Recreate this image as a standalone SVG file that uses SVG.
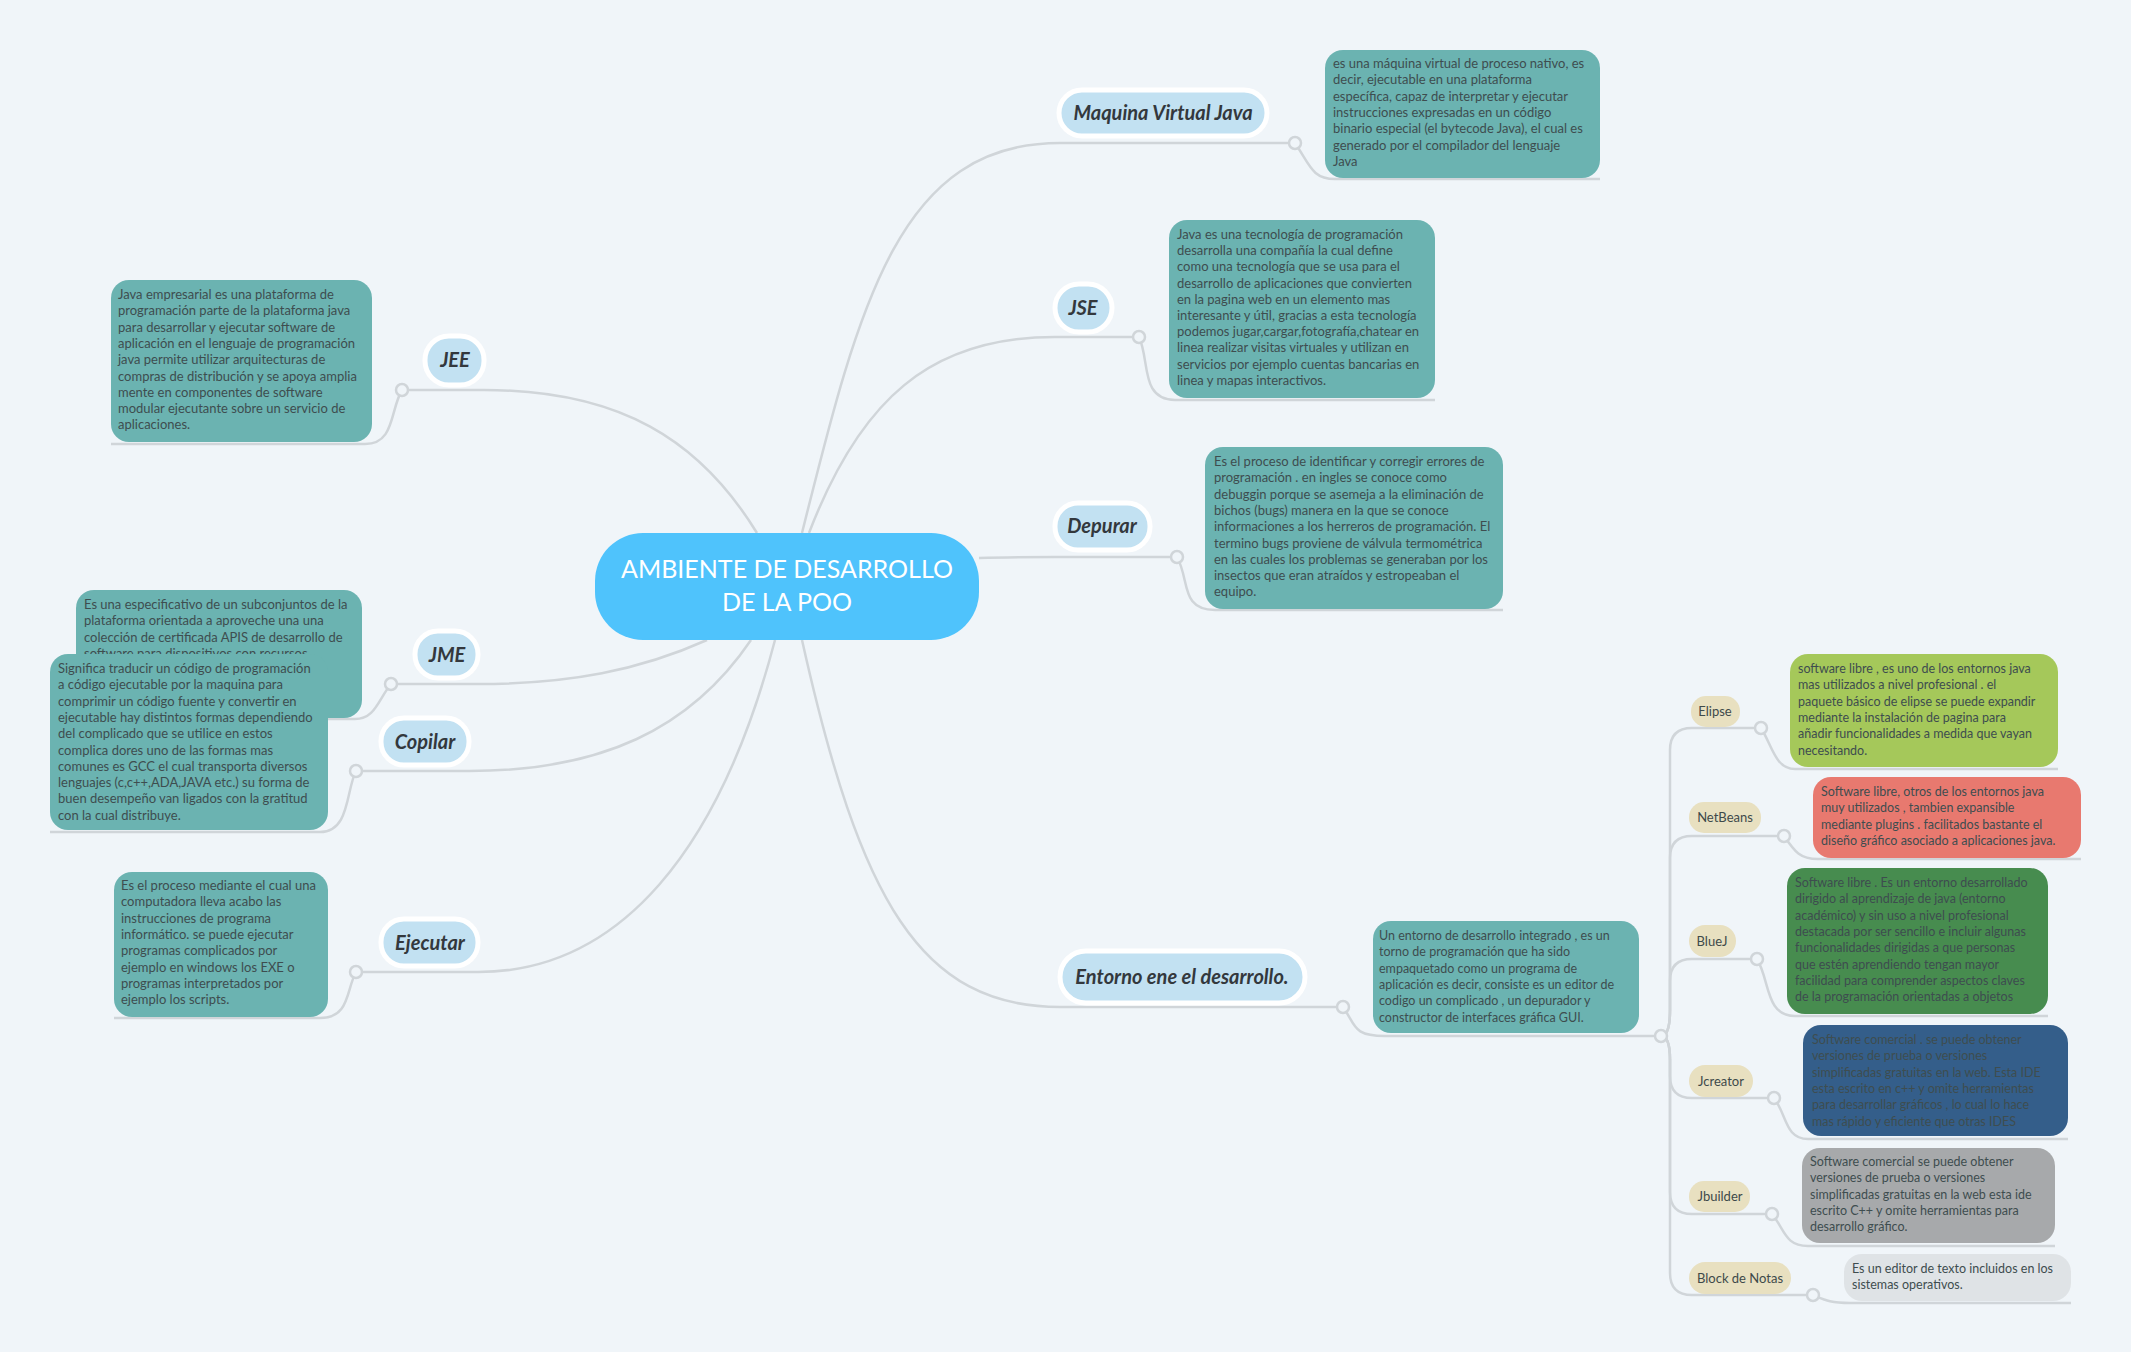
<svg xmlns="http://www.w3.org/2000/svg" width="2131" height="1352" viewBox="0 0 2131 1352">
<defs>
<style>
.c{fill:none;stroke:#d0d5d9;stroke-width:2.5}
.dot{fill:#f0f5f9;stroke:#d0d5d9;stroke-width:2.5}
.pill{fill:#c2e1f2;stroke:#fff;stroke-width:5}
.pt{font-family:Lato,"Liberation Sans",sans-serif;font-weight:bold;font-style:italic;font-size:20px;fill:#33383d;text-anchor:middle}
.box{fill:#6bb3b1}
.d{font-family:Lato,"Liberation Sans",sans-serif;font-size:13px;fill:#3e4d4f}
.dc{font-family:Lato,"Liberation Sans",sans-serif;font-size:12.5px;fill:#3e4d4f}
.sp{fill:#e8e0c0}
.st{font-family:Lato,"Liberation Sans",sans-serif;font-size:13px;fill:#3e4a4a;text-anchor:middle}
</style>
<clipPath id="jmeclip"><rect x="76" y="590" width="286" height="128" rx="20"/></clipPath>
</defs>
<rect width="2131" height="1352" fill="#f0f5f9"/>
<g id="connectors">
<path class="c" d="M802,533 C860,300 900,143 1060,143 L1295,143"/>
<path class="c" d="M1295,143 C1310,165 1312,179 1335,179 L1600,179"/>
<path class="c" d="M809,533 C860,400 930,337 1055,337 L1139,337"/>
<path class="c" d="M1139,337 C1150,360 1140,400 1175,400 L1435,400"/>
<path class="c" d="M979,558 C1010,557 1030,557 1055,557 L1177,557"/>
<path class="c" d="M1177,557 C1190,580 1180,610 1215,610 L1503,610"/>
<path class="c" d="M802,640 C860,900 920,1007 1060,1007 L1343,1007"/>
<path class="c" d="M1343,1007 C1356,1025 1352,1036 1385,1036 L1661,1036"/>
<path class="c" d="M1661,1036 Q1670,1036 1670,1010 L1670,750 Q1670,728 1692,728 L1761,728"/>
<path class="c" d="M1661,1036 Q1670,1036 1670,1010 L1670,858 Q1670,836 1692,836 L1784,836"/>
<path class="c" d="M1661,1036 Q1670,1036 1670,1010 L1670,981 Q1670,959 1692,959 L1757,959"/>
<path class="c" d="M1661,1036 Q1670,1036 1670,1060 L1670,1076 Q1670,1098 1692,1098 L1774,1098"/>
<path class="c" d="M1661,1036 Q1670,1036 1670,1060 L1670,1192 Q1670,1214 1692,1214 L1772,1214"/>
<path class="c" d="M1661,1036 Q1670,1036 1670,1060 L1670,1273 Q1670,1295 1692,1295 L1813,1295"/>
<path class="c" d="M1761,728 C1772,745 1775,769 1795,769 L2058,769"/>
<path class="c" d="M1784,836 C1795,852 1800,859 1818,859 L2081,859"/>
<path class="c" d="M1757,959 C1770,980 1765,1016 1795,1016 L2048,1016"/>
<path class="c" d="M1774,1098 C1787,1115 1785,1139 1808,1139 L2068,1139"/>
<path class="c" d="M1772,1214 C1785,1230 1785,1246 1808,1246 L2055,1246"/>
<path class="c" d="M1813,1295 C1825,1300 1830,1303 1850,1303 L2071,1303"/>
<path class="c" d="M757,533 C700,440 620,390 484,390 L402,390"/>
<path class="c" d="M402,390 C390,410 395,444 365,444 L111,444"/>
<path class="c" d="M707,640 C640,670 570,684 478,684 L391,684"/>
<path class="c" d="M391,684 C378,700 375,719 355,719 L76,719"/>
<path class="c" d="M751,640 C690,730 600,771 469,771 L356,771"/>
<path class="c" d="M356,771 C346,790 350,832 320,832 L50,832"/>
<path class="c" d="M775,640 C720,850 620,972 478,972 L356,972"/>
<path class="c" d="M356,972 C346,990 350,1018 320,1018 L114,1018"/>
<circle class="dot" cx="1295" cy="143" r="6"/>
<circle class="dot" cx="1139" cy="337" r="6"/>
<circle class="dot" cx="1177" cy="557" r="6"/>
<circle class="dot" cx="1343" cy="1007" r="6"/>
<circle class="dot" cx="1661" cy="1036" r="6"/>
<circle class="dot" cx="1761" cy="728" r="6"/>
<circle class="dot" cx="1784" cy="836" r="6"/>
<circle class="dot" cx="1757" cy="959" r="6"/>
<circle class="dot" cx="1774" cy="1098" r="6"/>
<circle class="dot" cx="1772" cy="1214" r="6"/>
<circle class="dot" cx="1813" cy="1295" r="6"/>
<circle class="dot" cx="402" cy="390" r="6"/>
<circle class="dot" cx="391" cy="684" r="6"/>
<circle class="dot" cx="356" cy="771" r="6"/>
<circle class="dot" cx="356" cy="972" r="6"/>
</g>
<g id="center">
<rect x="595" y="533" width="384" height="107" rx="48" fill="#4fc3fc"/>
<text x="787" y="578" font-family="Lato,'Liberation Sans',sans-serif" font-size="25" fill="#fff" text-anchor="middle">AMBIENTE DE DESARROLLO</text>
<text x="787" y="611" font-family="Lato,'Liberation Sans',sans-serif" font-size="25" fill="#fff" text-anchor="middle">DE LA POO</text>
</g>
<g id="mvj">
<rect class="pill" x="1059" y="90" width="208" height="46" rx="23"/>
<text class="pt" x="1163" y="120">Maquina Virtual Java</text>
<rect class="box" x="1325" y="50" width="275" height="128" rx="18"/>
<text class="d" x="1333" y="68"><tspan x="1333">es una máquina virtual de proceso nativo, es</tspan><tspan x="1333" dy="16.3">decir, ejecutable en una plataforma</tspan><tspan x="1333" dy="16.3">específica, capaz de interpretar y ejecutar</tspan><tspan x="1333" dy="16.3">instrucciones expresadas en un código</tspan><tspan x="1333" dy="16.3">binario especial (el bytecode Java), el cual es</tspan><tspan x="1333" dy="16.3">generado por el compilador del lenguaje</tspan><tspan x="1333" dy="16.3">Java</tspan></text>
</g>
<g id="jse">
<rect class="pill" x="1055" y="284" width="57" height="48" rx="24"/>
<text class="pt" x="1083" y="315">JSE</text>
<rect class="box" x="1169" y="220" width="266" height="178" rx="18"/>
<text class="d" x="1177" y="239"><tspan x="1177">Java es una tecnología de programación</tspan><tspan x="1177" dy="16.2">desarrolla una compañía la cual define</tspan><tspan x="1177" dy="16.2">como una tecnología que se usa para el</tspan><tspan x="1177" dy="16.2">desarrollo de aplicaciones que convierten</tspan><tspan x="1177" dy="16.2">en la pagina web en un elemento mas</tspan><tspan x="1177" dy="16.2">interesante y útil, gracias a esta tecnología</tspan><tspan x="1177" dy="16.2">podemos jugar,cargar,fotografía,chatear en</tspan><tspan x="1177" dy="16.2">linea realizar visitas virtuales y utilizan en</tspan><tspan x="1177" dy="16.2">servicios por ejemplo cuentas bancarias en</tspan><tspan x="1177" dy="16.2">linea y mapas interactivos.</tspan></text>
</g>
<g id="depurar">
<rect class="pill" x="1055" y="503" width="95" height="47" rx="23"/>
<text class="pt" x="1102" y="533">Depurar</text>
<rect class="box" x="1205" y="447" width="298" height="162" rx="18"/>
<text class="d" x="1214" y="466"><tspan x="1214">Es el proceso de identificar y corregir errores de</tspan><tspan x="1214" dy="16.3">programación . en ingles se conoce como</tspan><tspan x="1214" dy="16.3">debuggin porque se asemeja a la eliminación de</tspan><tspan x="1214" dy="16.3">bichos (bugs) manera en la que se conoce</tspan><tspan x="1214" dy="16.3">informaciones a los herreros de programación. El</tspan><tspan x="1214" dy="16.3">termino bugs proviene de válvula termométrica</tspan><tspan x="1214" dy="16.3">en las cuales los problemas se generaban por los</tspan><tspan x="1214" dy="16.3">insectos que eran atraídos y estropeaban el</tspan><tspan x="1214" dy="16.3">equipo.</tspan></text>
</g>
<g id="entorno">
<rect class="pill" x="1060" y="951" width="245" height="52" rx="26"/>
<text class="pt" x="1182" y="984">Entorno ene el desarrollo.</text>
<rect class="box" x="1373" y="921" width="266" height="112" rx="18"/>
<text class="dc" x="1379" y="940"><tspan x="1379">Un entorno de desarrollo integrado , es un</tspan><tspan x="1379" dy="16.3">torno de programación que ha sido</tspan><tspan x="1379" dy="16.3">empaquetado como un programa de</tspan><tspan x="1379" dy="16.3">aplicación es decir, consiste es un editor de</tspan><tspan x="1379" dy="16.3">codigo un complicado , un depurador y</tspan><tspan x="1379" dy="16.3">constructor  de interfaces gráfica GUI.</tspan></text>
</g>
<g id="elipse">
<rect class="sp" x="1691" y="696" width="49" height="31" rx="15"/>
<text class="st" x="1715" y="716">Elipse</text>
<rect x="1790" y="654" width="268" height="113" rx="18" fill="#a5c85a"/>
<text class="dc" x="1798" y="673"><tspan x="1798">software libre , es uno de los entornos java</tspan><tspan x="1798" dy="16.3">mas utilizados a nivel profesional . el</tspan><tspan x="1798" dy="16.3">paquete básico de elipse se puede expandir</tspan><tspan x="1798" dy="16.3">mediante la instalación de pagina para</tspan><tspan x="1798" dy="16.3">añadir funcionalidades a medida que vayan</tspan><tspan x="1798" dy="16.3">necesitando.</tspan></text>
</g>
<g id="netbeans">
<rect class="sp" x="1689" y="802" width="72" height="31" rx="15"/>
<text class="st" x="1725" y="822">NetBeans</text>
<rect x="1813" y="777" width="268" height="81" rx="18" fill="#e8796f"/>
<text class="dc" x="1821" y="796"><tspan x="1821">Software libre, otros de los entornos java</tspan><tspan x="1821" dy="16.3">muy utilizados , tambien expansible</tspan><tspan x="1821" dy="16.3">mediante plugins . facilitados bastante el</tspan><tspan x="1821" dy="16.3">diseño gráfico asociado a aplicaciones java.</tspan></text>
</g>
<g id="bluej">
<rect class="sp" x="1689" y="925" width="47" height="32" rx="16"/>
<text class="st" x="1712" y="946">BlueJ</text>
<rect x="1787" y="868" width="261" height="146" rx="18" fill="#478c4f"/>
<text class="dc" x="1795" y="887" fill="#2f4a33"><tspan x="1795">Software libre . Es un entorno desarrollado</tspan><tspan x="1795" dy="16.3">dirigido al aprendizaje de java (entorno</tspan><tspan x="1795" dy="16.3">académico) y sin uso a nivel profesional</tspan><tspan x="1795" dy="16.3">destacada por ser sencillo e incluir algunas</tspan><tspan x="1795" dy="16.3">funcionalidades dirigidas a que personas</tspan><tspan x="1795" dy="16.3">que estén aprendiendo tengan mayor</tspan><tspan x="1795" dy="16.3">facilidad para comprender aspectos claves</tspan><tspan x="1795" dy="16.3">de la programación orientadas a objetos</tspan></text>
</g>
<g id="jcreator">
<rect class="sp" x="1689" y="1065" width="64" height="32" rx="16"/>
<text class="st" x="1721" y="1086">Jcreator</text>
<rect x="1803" y="1025" width="265" height="111" rx="18" fill="#345e8a"/>
<text class="dc" x="1812" y="1044" fill="#2c4866"><tspan x="1812">Software comercial . se puede obtener</tspan><tspan x="1812" dy="16.3">versiones de prueba o versiones</tspan><tspan x="1812" dy="16.3">simplificadas gratuitas en la web. Esta  IDE</tspan><tspan x="1812" dy="16.3">esta escrito  en c++ y omite herramientas</tspan><tspan x="1812" dy="16.3">para desarrollar gráficos , lo cual lo hace</tspan><tspan x="1812" dy="16.3">mas rápido y eficiente que otras IDES</tspan></text>
</g>
<g id="jbuilder">
<rect class="sp" x="1689" y="1181" width="61" height="31" rx="15"/>
<text class="st" x="1720" y="1201">Jbuilder</text>
<rect x="1802" y="1148" width="253" height="95" rx="18" fill="#a7a9ab"/>
<text class="dc" x="1810" y="1166"><tspan x="1810">Software comercial se puede obtener</tspan><tspan x="1810" dy="16.3">versiones de prueba o versiones</tspan><tspan x="1810" dy="16.3">simplificadas gratuitas en la web esta ide</tspan><tspan x="1810" dy="16.3">escrito  C++ y omite herramientas para</tspan><tspan x="1810" dy="16.3">desarrollo gráfico.</tspan></text>
</g>
<g id="blocknotas">
<rect class="sp" x="1689" y="1262" width="102" height="32" rx="16"/>
<text class="st" x="1740" y="1283">Block de Notas</text>
<rect x="1844" y="1254" width="227" height="47" rx="18" fill="#dfe3e6"/>
<text class="dc" x="1852" y="1273"><tspan x="1852">Es un editor de texto incluidos en los</tspan><tspan x="1852" dy="16.3">sistemas operativos.</tspan></text>
</g>
<g id="jee">
<rect class="pill" x="425" y="336" width="59" height="49" rx="24"/>
<text class="pt" x="455" y="367">JEE</text>
<rect class="box" x="111" y="280" width="261" height="162" rx="18"/>
<text class="d" x="118" y="299" fill="#111"><tspan x="118">Java empresarial es una plataforma de</tspan><tspan x="118" dy="16.3">programación parte de la plataforma java</tspan><tspan x="118" dy="16.3">para desarrollar y ejecutar software de</tspan><tspan x="118" dy="16.3">aplicación en el lenguaje de programación</tspan><tspan x="118" dy="16.3">java permite utilizar arquitecturas de</tspan><tspan x="118" dy="16.3">compras de distribución y se apoya amplia</tspan><tspan x="118" dy="16.3">mente en componentes de software</tspan><tspan x="118" dy="16.3">modular ejecutante sobre un servicio de</tspan><tspan x="118" dy="16.3">aplicaciones.</tspan></text>
</g>
<g id="jme">
<rect class="pill" x="415" y="631" width="63" height="47" rx="23"/>
<text class="pt" x="447" y="662">JME</text>
<rect class="box" x="76" y="590" width="286" height="128" rx="18"/>
<text class="d" x="84" y="609" clip-path="url(#jmeclip)"><tspan x="84">Es una especificativo de un subconjuntos de la</tspan><tspan x="84" dy="16.3">plataforma orientada a aproveche una una</tspan><tspan x="84" dy="16.3">colección de certificada  APIS de desarrollo de</tspan><tspan x="84" dy="16.3">software  para dispositivos con recursos</tspan></text>
</g>
<g id="copilar">
<rect class="pill" x="381" y="718" width="88" height="47" rx="23"/>
<text class="pt" x="425" y="749">Copilar</text>
<rect class="box" x="50" y="654" width="278" height="176" rx="18"/>
<text class="d" x="58" y="673"><tspan x="58">Significa traducir un código de programación</tspan><tspan x="58" dy="16.3">a código ejecutable por la maquina para</tspan><tspan x="58" dy="16.3">comprimir un código fuente y convertir en</tspan><tspan x="58" dy="16.3">ejecutable hay distintos formas dependiendo</tspan><tspan x="58" dy="16.3">del complicado que se utilice en estos</tspan><tspan x="58" dy="16.3">complica dores uno de las formas  mas</tspan><tspan x="58" dy="16.3">comunes es GCC el cual transporta diversos</tspan><tspan x="58" dy="16.3">lenguajes (c,c++,ADA,JAVA etc.) su forma de</tspan><tspan x="58" dy="16.3">buen desempeño van ligados con la gratitud</tspan><tspan x="58" dy="16.3">con la cual distribuye.</tspan></text>
</g>
<g id="ejecutar">
<rect class="pill" x="381" y="919" width="97" height="47" rx="23"/>
<text class="pt" x="430" y="950">Ejecutar</text>
<rect class="box" x="114" y="872" width="214" height="145" rx="18"/>
<text class="d" x="121" y="890"><tspan x="121">Es el proceso mediante el cual una</tspan><tspan x="121" dy="16.3">computadora lleva acabo las</tspan><tspan x="121" dy="16.3">instrucciones de programa</tspan><tspan x="121" dy="16.3">informático. se puede ejecutar</tspan><tspan x="121" dy="16.3">programas complicados por</tspan><tspan x="121" dy="16.3">ejemplo en windows los EXE o</tspan><tspan x="121" dy="16.3">programas interpretados por</tspan><tspan x="121" dy="16.3">ejemplo los scripts.</tspan></text>
</g>
</svg>
